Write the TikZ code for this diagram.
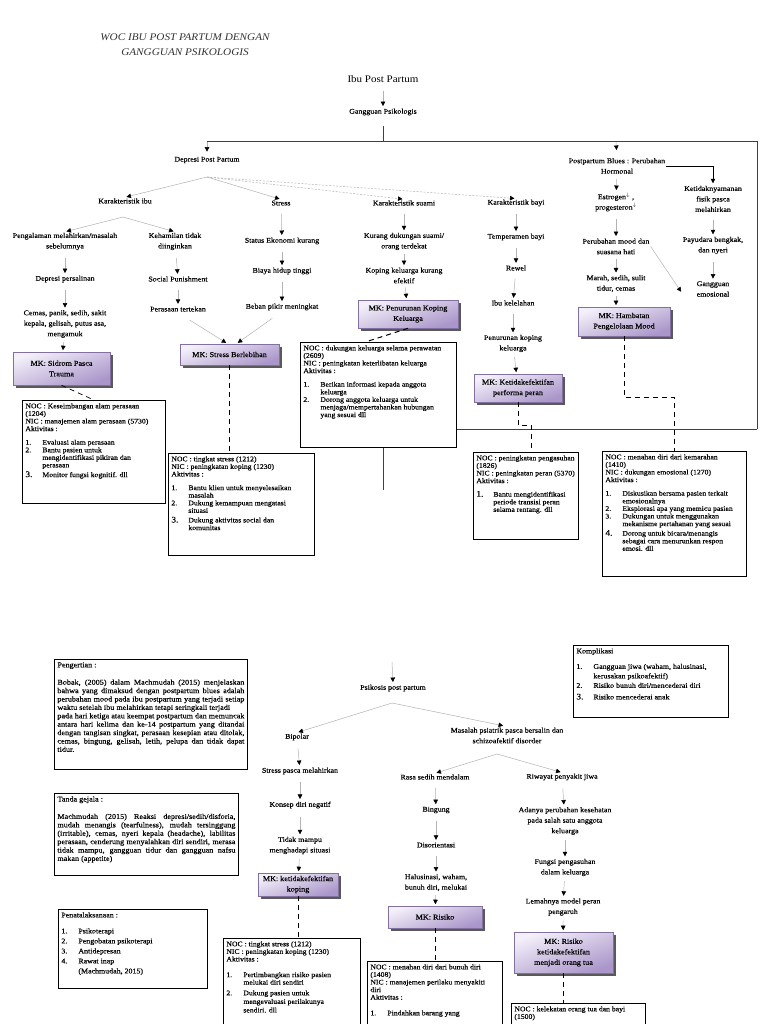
\documentclass[tikz,border=0pt]{standalone}
\usepackage{fontspec}
\setmainfont{Liberation Serif}[FakeStretch=1.1, FakeBold=0.35]
\newfontfamily\plainfont{Liberation Serif}[FakeStretch=1.1]
\usetikzlibrary{arrows.meta,shadows,calc}
\definecolor{mkL}{RGB}{244,240,250}
\definecolor{mkD}{RGB}{170,150,202}
\definecolor{mkB}{RGB}{130,112,160}
\newcommand{\lblf}{\fontsize{7.2}{10.5}\selectfont}
\newcommand{\nocf}{\fontsize{7.0}{7.6}\selectfont}
\newcommand{\bodyf}{\fontsize{7.4}{8.4}\selectfont}
\newcommand{\mkf}{\fontsize{7.4}{10.5}\selectfont}
\newcommand{\numi}[2]{\makebox[17pt][l]{#1}#2}
\newcommand{\cnt}[1]{\hspace*{17pt}#1}
\newcommand{\nbox}[3]{\parbox[t][#2][t]{#1}{#3}}
\begin{document}
\begin{tikzpicture}[x=1pt,y=-1pt,
  lbl/.style={font=\lblf, align=center, inner sep=1pt},
  ar/.style={draw=gray!60, line width=0.5pt, -{Triangle[width=4.5pt,length=4.5pt,color=black,fill=black]}, shorten <=7pt, shorten >=1.5pt},
  br/.style={draw=gray!60, line width=0.5pt, -{Triangle[width=4.5pt,length=4.5pt,color=black,fill=black]}, shorten >=1.5pt},
  brd/.style={br, dash pattern=on 2pt off 1.5pt},
  bar/.style={draw=black!75, line width=1pt},
  mk/.style={draw=mkB, line width=0.6pt, top color=mkL, bottom color=mkD, shading angle=20,
     drop shadow={shadow xshift=2.5pt, shadow yshift=-2.5pt, fill=black!65, opacity=1},
     font=\mkf, align=center, inner sep=1pt},
  noc/.style={draw=black, line width=0.8pt, fill=white, anchor=north west, inner sep=3pt, font=\nocf},
  dsh/.style={draw=black, line width=1pt, dash pattern=on 5pt off 4pt},
]
\useasboundingbox (0,0) rectangle (768,1024);
\fill[white] (0,0) rectangle (768,1024);

% ---------- title ----------
\node[font=\plainfont\fontsize{10.2}{15}\selectfont\itshape, align=center, text=black!80] (title) at (185,44.5) {WOC IBU POST PARTUM DENGAN\\GANGGUAN PSIKOLOGIS};

\node[font=\plainfont\fontsize{10}{12}\selectfont, inner sep=1pt] (ibu) at (383,79) {Ibu Post Partum};
\node[lbl] (gp) at (383,112) {Gangguan Psikologis};
\draw[ar] (ibu) -- (gp);

\coordinate (dpt) at (207,142);
\coordinate (pbt) at (616,142);
\coordinate (rt) at (757,142);
\coordinate (rb) at (757,429);
\draw[bar, shorten <=10pt] (gp.south) -- (gp.south |- dpt);
\draw[bar] (dpt) -- (rt) -- (rb);

% ---------- Depresi post partum ----------
\node[lbl] (dpp) at (207,160) {Depresi Post Partum};
\draw[ar, shorten <=0pt, shorten >=4pt] (dpt) -- (dpp.north);
\coordinate (dppb) at (207,177);

\node[lbl] (ki) at (125,201) {Karakteristik ibu};
\node[lbl] (st) at (281,203) {Stress};
\node[lbl] (ks) at (404,203) {Karakteristik suami};
\node[lbl] (kb) at (516,203) {Karakteristik bayi};
\draw[br] (dppb) -- (ki.north);
\draw[br] (dppb) -- (st.north);
\draw[brd] (dppb) -- (ks.north);
\draw[brd] (dppb) -- (kb.north);

% karakteristik ibu
\coordinate (kib) at (123,217);
\node[lbl] (pm) at (65,241.5) {Pengalaman melahirkan/masalah\\sebelumnya};
\node[lbl] (kt) at (175,241.5) {Kehamilan tidak\\diinginkan};
\draw[br] (kib) -- (pm.north);
\draw[br] (kib) -- (kt.north);
\node[lbl] (dp) at (65,279) {Depresi persalinan};
\node[lbl] (cm) at (65,324) {Cemas, panik, sedih, sakit\\kepala, gelisah, putus asa,\\mengamuk};
\draw[ar] (pm) -- (dp);
\draw[ar] (dp) -- (cm);
\node[mk, minimum width=97pt, minimum height=33pt] (mk1) at (61.5,368.5) {MK: Sidrom Pasca\\Trauma};
\draw[ar, shorten <=3pt] (cm) -- (mk1);
\node[lbl] (sp) at (178,279) {Social Punishment};
\node[lbl] (pt) at (178,309) {Perasaan tertekan};
\draw[ar] (kt) -- (sp);
\draw[ar] (sp) -- (pt);

% stress
\node[lbl] (se) at (282,241) {Status Ekonomi kurang};
\node[lbl] (bh) at (282,271) {Biaya hidup tinggi};
\node[lbl] (bp) at (282,307) {Beban pikir meningkat};
\draw[ar] (st) -- (se);
\draw[ar] (se) -- (bh);
\draw[ar] (bh) -- (bp);
\node[mk, minimum width=99pt, minimum height=21pt] (mk2) at (229.5,354.5) {MK: Stress Berlebihan};
\draw[br, shorten <=14pt] (pt.south) -- ([xshift=-2pt]mk2.north);
\draw[br, shorten <=12pt] (bp.south) -- ([xshift=7pt]mk2.north);

% suami
\node[lbl] (kd) at (404,241.5) {Kurang dukungan suami/\\orang terdekat};
\node[lbl] (kk) at (404,275.5) {Koping keluarga kurang\\efektif};
\draw[ar] (ks) -- (kd);
\draw[ar, shorten <=3pt] (kd) -- (kk);
\node[mk, minimum width=100pt, minimum height=28pt] (mk3) at (408,314) {MK: Penurunan Koping\\Keluarga};
\draw[ar, shorten <=3pt] (kk) -- (mk3);

% bayi
\node[lbl] (tb) at (516,237) {Temperamen bayi};
\node[lbl] (rw) at (516,268) {Rewel};
\node[lbl] (ik) at (513,303) {Ibu kelelahan};
\node[lbl] (pk) at (513,343.5) {Penurunan koping\\keluarga};
\draw[ar] (kb) -- (tb);
\draw[ar] (tb) -- (rw);
\draw[ar] (rw) -- (ik);
\draw[ar] (ik) -- (pk);
\node[mk, minimum width=88pt, minimum height=28pt] (mk4) at (518,388) {MK: Ketidakefektifan\\performa peran};
\draw[ar, shorten <=4pt] (pk) -- (mk4);

% postpartum blues
\node[lbl] (pb) at (617,166) {Postpartum Blues : Perubahan\\Hormonal};
\draw[ar, shorten <=0pt, shorten >=7pt] (pbt) -- (pb.north);
\node[lbl] (es) at (616,202) {Estrogen$^{\downarrow}$ ,\\progesteron$^{\downarrow}$};
\node[lbl] (pmd) at (616,246.5) {Perubahan mood dan\\suasana hati};
\node[lbl] (ms) at (616,283.5) {Marah, sedih, sulit\\tidur, cemas};
\draw[ar, shorten <=4pt] (pb) -- (es);
\draw[ar] (es) -- (pmd);
\draw[ar, shorten <=4pt] (pmd) -- (ms);
\node[mk, minimum width=92pt, minimum height=29pt] (mk5) at (624,321.5) {MK: Hambatan\\Pengelolaan Mood};
\draw[ar, shorten <=3pt] (ms.south -| 616,0) -- (mk5.north -| 616,0);

\node[lbl] (kf) at (713,199) {Ketidaknyamanan\\fisik pasca\\melahirkan};
\node[lbl] (pbn) at (713,245.5) {Payudara bengkak,\\dan nyeri};
\node[lbl] (gg) at (713,289) {Gangguan\\emosional};
\draw[draw=black, line width=0.6pt, -{Triangle[width=4.5pt,length=4.5pt,color=black,fill=black]}, shorten >=1.5pt] (pb.east) -| (kf.north);
\draw[ar] (kf) -- (pbn);
\draw[ar] (pbn) -- (gg);
\coordinate (gga) at (682,293);
\draw[br] (pmd.east) -- (gga);

% ---------- NOC boxes top ----------
\node[noc] (noc1) at (22,400) {\nbox{137pt}{97pt}{%
NOC : Keseimbangan alam perasaan\\
(1204)\\
NIC : manajemen alam perasaan (5730)\\
Aktivitas :\\[6pt]
\numi{1.}{Evaluasi alam perasaan}\\
\numi{2.}{Bantu pasien untuk}\\
\cnt{mengidentifikasi pikiran dan}\\
\cnt{perasaan}\\[2pt]
\numi{\fontsize{8.5}{8}\selectfont 3.}{Monitor fungsi kognitif. dll}}};
\draw[dsh, line width=0.7pt] (mk1.south) -- (noc1.north);

\node[noc] (noc2) at (168,453) {\nbox{140pt}{96pt}{%
NOC : tingkat stress (1212)\\
NIC : peningkatan koping (1230)\\
Aktivitas :\\[6pt]
\numi{1.}{Bantu klien untuk menyelesaikan}\\
\cnt{masalah}\\
\numi{2.}{Dukung kemampuan mengatasi}\\
\cnt{situasi}\\[2pt]
\numi{\fontsize{8.5}{8}\selectfont 3.}{Dukung aktivitas social dan}\\
\cnt{komunitas}}};
\draw[dsh] (mk2.south) -- (mk2.south |- noc2.north);

\node[noc] (noc3) at (300,342) {\nbox{150pt}{99pt}{%
NOC : dukungan keluarga selama perawatan\\
(2609)\\
NIC : peningkatan keterlibatan keluarga\\
Aktivitas :\\[6pt]
\numi{1.}{Berikan informasi kepada anggota}\\
\cnt{keluarga}\\
\numi{2.}{Dorong anggota keluarga untuk}\\
\cnt{menjaga/mempertahankan hubungan}\\
\cnt{yang sesuai dll}}};
\draw[dsh] (mk3.south) -- ([xshift=-13pt]noc3.north);
\draw[bar] (rb) -- (rb -| noc3.east);
\coordinate (vl) at (383,490);
\draw[bar, line width=0.8pt] (noc3.south -| vl) -- (vl);

\node[noc] (noc4) at (473,452) {\nbox{99pt}{81pt}{%
NOC : peningkatan pengasuhan\\
(1826)\\
NIC : peningkatan peran (5370)\\
Aktivitas :\\[6pt]
\numi{\fontsize{8.5}{8}\selectfont 1.}{Bantu mengidentifikasi}\\
\cnt{periode transisi peran}\\
\cnt{selama rentang. dll}}};
\draw[dsh] (mk4.south) -- ++(0,23) -| ([xshift=5.5pt]noc4.north);

\node[noc] (noc5) at (602,451) {\nbox{138pt}{119pt}{%
NOC : menahan diri dari kemarahan\\
(1410)\\
NIC : dukungan emosional (1270)\\
Aktivitas :\\[6pt]
\numi{1.}{Diskusikan bersama pasien terkait}\\
\cnt{emosionalnya}\\
\numi{2.}{Eksplorasi apa yang memicu pasien}\\
\numi{3.}{Dukungan untuk menggunakan}\\
\cnt{mekanisme pertahanan yang sesuai}\\[2pt]
\numi{\fontsize{8.5}{8}\selectfont 4.}{Dorong untuk bicara/menangis}\\
\cnt{sebagai cara menurunkan respon}\\
\cnt{emosi. dll}}};
\draw[dsh] (mk5.south) -- ++(0,61) -| (noc5.north);

% ---------- lower left info boxes ----------
\node[noc, font=\bodyf] (pg) at (54,659) {\nbox{187pt}{104pt}{%
Pengertian :\\[9pt]
Bobak, (2005) dalam Machmudah (2015) menjelaskan\linebreak
bahwa yang dimaksud dengan postpartum blues adalah\linebreak
perubahan mood pada ibu postpartum yang terjadi setiap\linebreak
waktu setelah ibu melahirkan tetapi seringkali terjadi\\
pada hari ketiga atau keempat postpartum dan memuncak\linebreak
antara hari kelima dan ke-14 postpartum yang ditandai\linebreak
dengan tangisan singkat, perasaan kesepian atau ditolak,\linebreak
cemas, bingung, gelisah, letih, pelupa dan tidak dapat\linebreak
tidur.}};

\node[noc, font=\bodyf] (tg) at (54,793) {\nbox{178pt}{76pt}{%
Tanda gejala :\\[9pt]
Machmudah (2015) Reaksi depresi/sedih/disforia,\linebreak
mudah menangis (tearfulness), mudah tersinggung\linebreak
(irritable), cemas, nyeri kepala (headache), labilitas\linebreak
perasaan, cenderung menyalahkan diri sendiri, merasa\linebreak
tidak mampu, gangguan tidur dan gangguan nafsu\linebreak
makan (appetite)}};

\node[noc, font=\fontsize{7.2}{10}\selectfont] (pl) at (58,909) {\nbox{143pt}{73pt}{%
Penatalaksanaan :\\[6pt]
\numi{1.}{Psikoterapi}\\
\numi{2.}{Pengobatan psikoterapi}\\
\numi{3.}{Antidepresan}\\
\numi{4.}{Rawat inap}\\
\cnt{(Machmudah, 2015)}}};

\node[noc, font=\fontsize{7.2}{9.5}\selectfont] (kom) at (573,645) {\nbox{149pt}{66pt}{%
Komplikasi\\[6pt]
\numi{1.}{Gangguan jiwa (waham, halusinasi,}\\
\cnt{kerusakan psikoafektif)}\\
\numi{2.}{Risiko bunuh diri/mencederai diri}\\[2pt]
\numi{\fontsize{8.5}{8}\selectfont 3.}{Risiko mencederai anak}}};

% ---------- psikosis ----------
\coordinate (pst) at (392,662);
\node[lbl] (ps) at (393,688) {Psikosis post partum};
\draw[ar, shorten <=0pt] (pst) -- (ps.north);
\coordinate (psb) at (392,703);
\node[lbl] (bip) at (297,737) {Bipolar};
\node[lbl] (mp) at (507,735.5) {Masalah psiatrik pasca bersalin dan\\schizoafektif disorder};
\draw[br] (psb) -- (bip.north);
\draw[br, shorten >=4pt] (psb) -- (mp.north);

\node[lbl] (spm) at (300,771) {Stress pasca melahirkan};
\node[lbl] (kdn) at (300,805) {Konsep diri negatif};
\node[lbl] (tm) at (300,845.5) {Tidak mampu\\menghadapi situasi};
\draw[ar] (bip) -- (spm);
\draw[ar] (spm) -- (kdn);
\draw[ar] (kdn) -- (tm);
\node[mk, minimum width=80pt, minimum height=23pt] (mk6) at (298,884.5) {MK: ketidakefektifan\\koping};
\draw[ar, shorten <=4pt] (tm) -- (mk6);

\coordinate (mpb) at (497,754);
\node[lbl] (rs) at (435,777) {Rasa sedih mendalam};
\node[lbl] (rp) at (562,777) {Riwayat penyakit jiwa};
\draw[br] (mpb) -- (rs.north);
\draw[br] (mpb) -- (rp.north);
\node[lbl] (bg) at (436,810) {Bingung};
\node[lbl] (ds) at (436,845) {Disorientasi};
\node[lbl] (hw) at (436,882.5) {Halusinasi, waham,\\bunuh diri, melukai};
\draw[ar] (rs) -- (bg);
\draw[ar] (bg) -- (ds);
\draw[ar] (ds) -- (hw);
\node[mk, minimum width=94pt, minimum height=22pt] (mk7) at (435,917) {MK: Risiko};
\draw[ar, shorten <=3pt] (hw) -- (mk7);

\node[lbl] (ap) at (565,821) {Adanya perubahan kesehatan\\pada salah satu anggota\\keluarga};
\node[lbl] (fp) at (565,867.5) {Fungsi pengasuhan\\dalam keluarga};
\node[lbl] (lm) at (563,907) {Lemahnya model peran\\pengaruh};
\draw[ar] (rp) -- (ap);
\draw[ar, shorten <=4pt] (ap) -- (fp);
\draw[ar, shorten <=4pt] (fp) -- (lm);
\node[mk, minimum width=99pt, minimum height=41pt] (mk8) at (563.5,952.5) {MK: Risiko\\ketidakefektifan\\menjadi orang tua};
\draw[ar, shorten <=4pt] (lm) -- (mk8);

% ---------- NOC boxes bottom ----------
\node[noc] (noc6) at (223,938) {\nbox{131pt}{100pt}{%
NOC : tingkat stress (1212)\\
NIC : peningkatan koping (1230)\\
Aktivitas :\\[8pt]
\numi{1.}{Pertimbangkan risiko pasien}\\
\cnt{melukai diri sendiri}\\[3pt]
\numi{2.}{Dukung pasien untuk}\\[1pt]
\cnt{mengevaluasi perilakunya}\\[1pt]
\cnt{sendiri. dll}}};
\draw[dsh] (mk6.south) -- (mk6.south |- noc6.north);

\node[noc] (noc7) at (367,961) {\nbox{129pt}{90pt}{%
NOC : menahan diri dari bunuh diri\\
(1408)\\
NIC : manajemen perilaku menyakiti\\
diri\\
Aktivitas :\\[8pt]
\numi{1.}{Pindahkan barang yang}}};
\draw[dsh] (mk7.south) -- (mk7.south |- noc7.north);

\node[noc] (noc8) at (511,1003) {\nbox{128pt}{60pt}{%
NOC : kelekatan orang tua dan bayi\\
(1500)}};
\draw[dsh] (mk8.south) -- (mk8.south |- noc8.north);
\end{tikzpicture}
\end{document}
